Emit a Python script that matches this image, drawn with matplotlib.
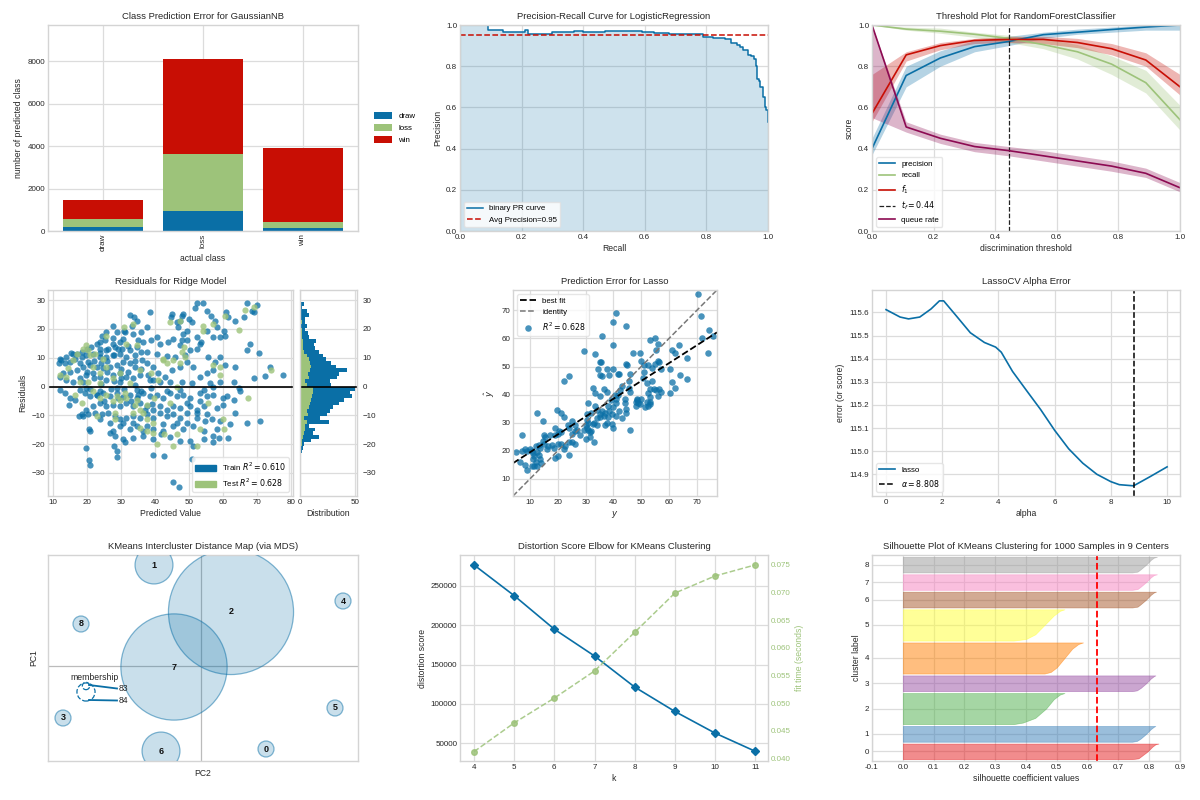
import numpy as np
import matplotlib
matplotlib.use('Agg')
import matplotlib.pyplot as plt
from matplotlib.patches import Patch
from matplotlib.ticker import FormatStrFormatter

plt.rcParams['font.family'] = ['Liberation Sans', 'DejaVu Sans']
plt.rcParams['mathtext.fontset'] = 'dejavusans'

BLUE = '#0a6fa6'
GREEN = '#9dc37a'
RED = '#c80e04'
PURPLE = '#8c0a52'
TXT = '#262626'

# ---------------- data ----------------
# 1 Class prediction error
classes = ['draw', 'loss', 'win']
pred_as_draw = [180, 930, 160]
pred_as_loss = [370, 2720, 250]
pred_as_win = [930, 4450, 3520]

# 2 Precision recall
pr_recall = [0.0, 0.09, 0.14, 0.21, 0.22, 0.30, 0.37, 0.40, 0.47, 0.53, 0.59, 0.63, 0.68, 0.73, 0.77,
             0.79, 0.82, 0.86, 0.88, 0.90, 0.91, 0.92, 0.935, 0.945, 0.955, 0.96, 0.965, 0.97, 0.975,
             0.985, 0.99, 0.995, 1.0]
pr_precision = [1.0, 0.975, 0.965, 0.978, 0.958, 0.968, 0.972, 0.968, 0.970, 0.970, 0.967, 0.963, 0.957,
                0.955, 0.955, 0.940, 0.935, 0.930, 0.915, 0.905, 0.895, 0.88, 0.855, 0.85, 0.835, 0.80,
                0.74, 0.73, 0.70, 0.65, 0.60, 0.585, 0.53]
avg_precision = 0.95

# 3 Threshold plot
thresholds = [0.0, 0.111, 0.222, 0.333, 0.444, 0.556, 0.667, 0.778, 0.889, 1.0]
prec_mean = [0.40, 0.755, 0.84, 0.895, 0.92, 0.953, 0.965, 0.978, 0.99, 1.0]
prec_lo = [0.37, 0.70, 0.80, 0.87, 0.90, 0.935, 0.955, 0.965, 0.975, 0.975]
prec_hi = [0.45, 0.80, 0.875, 0.925, 0.945, 0.965, 0.98, 0.99, 1.0, 1.0]
rec_mean = [1.0, 0.98, 0.97, 0.955, 0.935, 0.905, 0.87, 0.81, 0.72, 0.54]
rec_lo = [1.0, 0.975, 0.96, 0.94, 0.915, 0.885, 0.835, 0.76, 0.67, 0.49]
rec_hi = [1.0, 0.99, 0.985, 0.965, 0.95, 0.935, 0.905, 0.85, 0.78, 0.61]
f1_mean = [0.57, 0.855, 0.90, 0.925, 0.93, 0.93, 0.915, 0.885, 0.83, 0.70]
f1_lo = [0.53, 0.825, 0.88, 0.91, 0.915, 0.91, 0.89, 0.855, 0.80, 0.66]
f1_hi = [0.76, 0.87, 0.915, 0.935, 0.945, 0.945, 0.935, 0.91, 0.865, 0.76]
qr_mean = [1.0, 0.505, 0.45, 0.41, 0.39, 0.365, 0.34, 0.315, 0.28, 0.21]
qr_lo = [0.55, 0.48, 0.425, 0.385, 0.365, 0.34, 0.315, 0.29, 0.26, 0.19]
qr_hi = [1.0, 0.53, 0.47, 0.43, 0.41, 0.39, 0.365, 0.34, 0.305, 0.235]
t_opt = 0.444

# 4 Residuals
train_points = [
 (52.3,29.1),(54,29.1),(67,28.9),(70,28.3),(68.5,26.3),(51.8,27.4),(55.2,26.3),(48.2,25.1),(44.9,25.1),(38.5,25.9),
 (32.6,24.8),(33.9,24),(27.5,21.1),(47.9,24.6),(50.1,23.4),(46.4,22.3),(44.6,24),(61.6,24),(61,25.7),(63.6,22.6),
 (66.3,24.2),(69,25.7),(60.3,19.4),(60.6,17.7),(59.1,17.1),(57.2,17.1),(52.3,17.1),(53.6,15.4),(49.3,16),(47.9,16.2),
 (45.4,16.6),(40.5,17.1),(36,18.9),(33.6,18.3),(31.1,18.9),(27.7,16.9),(25.2,16.2),(23.8,15.4),(22.8,14.9),(21.3,13.7),
 (20,13.1),(18.4,12),(16.9,11.2),(15.4,11.7),(13.9,10.3),(12.2,9.1),(11.8,8),(13.4,8),(14.9,8.6),(16.4,9.7),
 (18.4,10.3),(19.8,10.9),(21.6,11.4),(23.8,11.7),(25.7,12.6),(28.2,13.7),(30.2,13.1),(32.6,12.6),(34.6,13.7),(37.5,12),
 (40.5,11.4),(43.4,10.5),(45.9,10.3),(48.8,10.9),(50.3,12.6),(52.3,13.1),(53.3,14.9),(55.7,10.3),(57.7,8.6),(59.1,10.3),
 (67,12.6),(67.8,14.6),(70.7,11.7),(73.7,6.9),(72.4,3.7),(77.6,4),(69.2,2.9),(63.6,6.9),(60.6,7.4),(63.1,1.7),
 (64.6,-0.6),(64.9,-1.7),(57.2,5.7),(55.2,4.6),(53.3,3.4),(51.3,6.9),(49.3,8.6),(47.4,6.9),(44.9,5.7),(42.9,3.4),
 (40.9,4.6),(39.5,6.9),(37.5,8),(36.1,9.1),(34.1,6.9),(32.6,8),(30.6,8.6),(28.7,7.4),(26.7,6.9),(24.7,6.3),
 (22.8,6.9),(20.8,7.4),(18.8,6.9),(16.9,5.7),(14.9,5.1),(13,4.6),(11.9,3.4),(13.9,2.3),(15.9,1.7),(17.9,2.9),
 (19.8,4),(21.8,4.6),(23.8,3.4),(25.7,2.3),(27.7,4),(29.7,4.6),(31.6,3.4),(33.6,2.9),(35.6,4),(38.5,2.3),
 (41.5,1.7),(44.4,1.4),(47.9,1.7),(50.8,1.1),(56.2,1.1),(59.1,1.7),
 (14.9,-4),(14.7,-6.3),(17.9,-1.1),(19.3,-2.3),(20.8,-3.4),(22.8,-2.9),(24.7,-2.3),(26.7,-3.4),(28.7,-2.3),(30.6,-3.7),
 (32.6,-2.9),(34.6,-4),(36.5,-2.3),(38.5,-3.4),(40.5,-2.9),(42.4,-4),(44.4,-2.3),(46.4,-3.4),(48.3,-2.9),(50.3,-4),
 (53.3,-2.3),(55.2,-3.4),(57.2,-2.9),(60.1,-4),(61.1,-3.4),(53.3,-5.1),(54.3,-6.9),(49.3,-5.7),(47.4,-7.4),(45.4,-6.9),
 (43.4,-8),(41.5,-6.9),(39.5,-8),(37.5,-6.9),(35.6,-5.7),(33.6,-6.9),(31.6,-5.7),(29.7,-6.9),(27.7,-6.3),(25.7,-6.9),
 (23.8,-5.7),(21.8,-6.9),(19.8,-8),(18.4,-9.7),(18.8,-10.3),(20.3,-9.7),(22.3,-9.1),(24.3,-9.7),(26.2,-9.1),(28.2,-10.3),
 (29.7,-11.4),(31.6,-10.9),(33.6,-10.1),(35.6,-10.9),(37.5,-9.7),(39.5,-10.9),(41.5,-9.1),(43.4,-10.3),(45.4,-9.7),(47.4,-10.9),
 (49.3,-9.1),(52.3,-9.1),(55.2,-9.7),(56.7,-11.4),(59.1,-12),(63.6,-9.1),(67.2,-12.6),(70.9,-12),(62.1,-13.1),(58.1,-14.9),
 (54.3,-15.4),(51.3,-13.7),(48.3,-14.9),(45.4,-13.7),(42.4,-13.1),(39.5,-14.9),(36.5,-15.4),(34.6,-13.7),(32.6,-14.9),(29.7,-13.7),
 (27.7,-15.4),(26.7,-16),(28.2,-17.1),(30.7,-18.3),(31.2,-19.4),(33.6,-17.7),(36.5,-17.1),(39.5,-18.3),(41.9,-16.6),(44.4,-17.4),
 (47.4,-18.9),(50.3,-18.9),(51.3,-20.6),(54.3,-18.3),(57.2,-19.4),(58.7,-17.7),(61.6,-17.7),(57.2,-17.1),(17.7,-10.3),(20.6,-14.9),
 (20.8,-15.4),(19.6,-21.5),(20.6,-25.5),(21,-27.4),(27.9,-20.6),(28.7,-22.3),(28.9,-24.3),(39.5,-23.8),(42.6,-24.2),(50.9,-25.1),
 (45.4,-33.1),(47.1,-34.9),(42.3,-15.4),
 (12,9.4),(15.9,11.4),(17.9,8),(20.3,8.6),(23.8,10.3),(25.7,10.3),(27.7,10.9),(29.7,11.4),(31.6,10.3),(23.8,13.1),
 (26.2,13.1),(29.2,13.1),(27.7,14.9),(29.7,15.4),(30.6,16.6),(30.9,19.4),(35.1,16),(36.5,15.4),(38.9,16),(41.5,14.9),
 (43.9,15.4),(47.4,14.3),(48.3,18.3),(46.9,20.6),(47.4,22.9),(49.3,19.4),(50.8,22.3),(55.2,19.4),(58.1,20.6),(56.4,24.6),
 (57.7,22.9),(37.5,20.6),(34.6,22.9),(33.1,21.1),(28.7,18.9),(25.7,18.9),(24.3,17.7),(39.5,2.3),(29.7,1.7),(18.8,1.7),
 (12,-1.1),(13.4,-2.3),(16.4,-4.6),(57.2,-0.2),(54.3,-1.1),(47.4,-1.1),(43.4,-1.4),(38.9,-0.6),(34.6,-1.1),(28.7,-0.6),
 (23.8,-1.4),(19.8,-0.6),(50.3,-6.9),(52.3,-8),(58.1,-7.4),(60.1,-6.3),(63.1,-4.6),(54.7,-12),(52.3,-10.9),(49.3,-12.6),
 (46.4,-12.6),(37.5,-13.7),(33.6,-12.6),(30.6,-12.6),(26.7,-12.6),(23.8,-11.4),
 (20,5),(22,3),(24,1),(26,5),(28,2),(30,6),(32,5),(34,9),(36,6),(38,4),(21,-1),(23,-3),(25,-5),(27,-1),(29,-4),
 (31,-1),(33,-5),(35,-3),(37,-8),(39,-6),(26,9),(28,11),(32,14),(34,11),(36,12),(22,9),(24,8),(30,3),(34,0.5),(36,-1.5)]
test_points = [
 (44.4,22.3),(47.4,22.6),(54.2,19.4),(57.2,21.7),(60.6,24.6),(66.5,26.5),(69,27.7),(64.7,19.7),(54.2,21.1),(48.4,13.7),
 (47.9,12),(47.4,8),(45.4,9.1),(42.4,9.7),(43.4,8),(48.8,10.3),(59.1,6.9),(57.2,7.4),(59.1,4),(74.1,5.9),
 (67.5,-4),(55.7,-5.7),(60.1,-11.4),(60.4,-14.9),(53.3,-14.9),(52.3,-20.6),(46.4,-16.6),(45.2,-20.6),(42.6,-16.6),(40.5,-20),
 (39.5,-16),(37.5,-15.4),(35.6,-14.3),(37.5,-11.4),(39.5,-12.6),(36.5,-9.1),(34.1,-6.3),(34.6,-4.6),(31.6,-4),(28.7,-3.4),
 (27.7,-5.1),(28.2,-9.1),(28.2,-11.4),(22.9,-10.3),(18.5,-5.7),(16.4,-2.9),(17.9,1.7),(13.9,3.4),(11.9,4),(14.4,6.3),
 (15.9,9.1),(16.9,11.2),(18.8,13.1),(19.6,14.3),(20.3,12.6),(22.3,11.2),(21.8,6.9),(24.7,9.7),(25.5,17.7),(30.8,20.8),
 (33.6,21.7),(31.6,14.9),(34.6,14.3),(25.7,6.9),(29.7,4.6),(27.7,2.9),(32.6,1.1),(23.8,1.1),(20.3,1.7),(35.6,5.7),
 (42.4,9.1),(31.1,-2.3),(29.7,-4.6),(25.7,-2.9),(23.8,-4),(21.8,-1.7),(33.6,-9.1),(35.6,-8),(37.5,-6.3),(39.7,-4),
 (44.4,-5.7),(46.4,0),(40.9,2.3),(38.9,4.6),(20.8,10.9),(23.8,4.6)]
train_r2 = 0.610
test_r2 = 0.628
hist_train = [0,1,0,0,0,1,0,1,1,2,3,4,10,17,12,14,8,26,18,25,27,30,36,40,47,46,50,28,27,34,
              36,43,33,28,24,21,17,14,13,15,8,7,5,6,5,5,8,6,2,4]
hist_test = [0,0,0,0,0,0,0,0,0,1,1,2,2,3,4,5,5,6,4,7,6,8,9,10,11,12,12,6,5,8,
             7,9,10,9,8,6,4,3,3,3,2,2,2,1,2,1,1,1,0,0]
hist_low, hist_high = -34.8, 29.4

# 5 Prediction error
pe_points = [
 (70.5,76),(71.5,68),(72,60),(74.5,63),(74,55),(76,61),(41,69),(40,66),(44.5,64.5),(36,61),(40,57.5),(29.5,55.5),
 (33.5,54.5),(35,51.5),(35.5,51.5),(34.5,49),(37.5,49),(40,49),(41.5,47.5),(35,47),(36,46.5),(38.5,47),(22,45),
 (24,46.5),(44.5,51),(44.8,50.6),(47,55),(49.5,55),(50,52),(51,50.5),(51,48),(52.5,50.5),(53,59.5),(55,60),(56,58),
 (55.5,56),(56,52),(56.3,51.5),(55,51),(54,49.5),(57,49),(60.5,49),(61,56),(62,55),(63.5,57.5),(61,44.5),(62,42.5),
 (64,47),(66.5,53),(66.5,45.5),(60.5,40.5),(56.5,42),(57,41),(56,39.5),(53,42),(52.5,40.5),(53,39),(52,37.5),
 (52.5,36),(51.5,35.5),(49.5,36.5),(50,38.5),(48,37.5),(48.5,38),(48,36),(46,41),(46,27.5),(44,38.5),(44,37),
 (44.5,35),(44.5,33.5),(43,31.5),(41.5,40),(41,38.5),(41,37),(42,34),(40,35.5),(41,32.5),(39.5,33),(38.5,34),
 (38,32),(37.5,30),(37,29),(39.5,29.5),(40,28),(36.5,32.5),(35,32),(34,31.5),(33.5,36),(33.5,40.5),(32.5,42.5),
 (31,37),(32,33.5),(30.5,33),(30.5,31),(30,29),(30.5,28),(31,27.5),(31.5,26.5),(32,27),(31.5,25),(30,24),(33,23),
 (31,30),(32.5,29.5),(33,30),(34,29),(29.5,27.5),(28,25.5),(27,27.5),(26,29),(25,30.5),(26,27),(25,26),(24,28),
 (23.5,29),(25,23),(26,22.5),(24,23),(24,18.5),(22.5,21.5),(22,20.5),(21,22.5),(20,22.5),(21,26.5),(19,28),(20,26),
 (19.5,34.5),(21,33.5),(22,32),(20.5,27),(19,25.5),(17,25.5),(18,22),(18.5,21),(19,17.5),(20,18),(16.5,21.5),
 (16,20.5),(15,22.5),(15,25.5),(15.3,25),(14.5,30.5),(12.5,33.5),(14.5,23.5),(13,22),(12,21.5),(12.5,19.5),(11.5,18),
 (11,17),(12,16),(11.5,14.5),(12.5,14.5),(10.5,14.5),(13.5,17),(14,15.5),(13,18.5),(10,20.5),(9,20),(8,20.5),(7,20),
 (8,15),(9,13),(6.5,16),(5,19.5),(7,25.5),(10.5,20),(11,19),(13.5,21),(35,39.5),(36.5,42),(37.5,41),(40.5,40),
 (42.5,41.5),(39,38),(38,36),(37,33.5),(36,34),(35,33),(34,34.5),(45.5,42.5),(45.5,45),(46,47.5),(42,47.5),(43,43),
 (50.5,46),(52,44),(54,45),(54.5,42),(55.5,41.5),(48.5,38.5),(49,37),(53,36.5),(53,37.5)]
pe_fit_slope, pe_fit_intercept = 0.635, 13.1
pe_r2 = 0.628
pe_limits = (3.8, 77.3)

# 6 LassoCV alpha error
lasso_alpha = [0, 0.5, 0.8, 1.2, 1.6, 1.9, 2.05, 2.5, 3.0, 3.5, 3.9, 4.1, 4.5, 5.0, 5.5, 6.0, 6.5, 7.0,
               7.5, 8.0, 8.3, 8.808, 9.4, 10.0]
lasso_error = [115.612, 115.58, 115.572, 115.58, 115.615, 115.65, 115.65, 115.585, 115.512, 115.47,
               115.45, 115.428, 115.345, 115.262, 115.18, 115.09, 115.01, 114.948, 114.9, 114.868,
               114.855, 114.85, 114.89, 114.932]
best_alpha = 8.808

# 7 Intercluster distance (MDS)
cluster_ids = [0, 1, 2, 3, 4, 5, 6, 7, 8]
cluster_pc2 = [0.65, -0.47, 0.30, -1.38, 1.42, 1.34, -0.40, -0.27, -1.20]
cluster_pc1 = [-0.83, 1.01, 0.54, -0.52, 0.65, -0.42, -0.85, -0.01, 0.42]
cluster_relsize = [1.0, 5.6, 61.0, 1.0, 1.0, 1.0, 5.6, 44.0, 1.0]
membership_labels = ['83', '84']

# 8 Elbow
elbow_k = [4, 5, 6, 7, 8, 9, 10, 11]
distortion = [276700, 237700, 195000, 161000, 121500, 90500, 63000, 39900]
fit_time = [0.0412, 0.0464, 0.0509, 0.0558, 0.0628, 0.0699, 0.0730, 0.0750]

# 9 Silhouette
sil_sizes = [83, 84, 166, 84, 166, 167, 84, 83, 83]
sil_quantiles = [0.0, 0.05, 0.2, 0.5, 0.8, 0.95, 1.0]
sil_profiles = [
    [0.745, 0.765, 0.775, 0.795, 0.81, 0.82, 0.83],
    [0.745, 0.76, 0.772, 0.79, 0.805, 0.815, 0.82],
    [0.36, 0.39, 0.43, 0.465, 0.49, 0.51, 0.525],
    [0.745, 0.76, 0.772, 0.79, 0.805, 0.815, 0.82],
    [0.46, 0.48, 0.50, 0.525, 0.55, 0.57, 0.585],
    [0.36, 0.40, 0.43, 0.46, 0.49, 0.51, 0.525],
    [0.745, 0.762, 0.772, 0.79, 0.805, 0.815, 0.822],
    [0.745, 0.762, 0.772, 0.79, 0.805, 0.815, 0.825],
    [0.745, 0.762, 0.772, 0.79, 0.805, 0.815, 0.825],
]
sil_avg = 0.629
SET1 = ['#e41a1c', '#377eb8', '#4daf4a', '#984ea3', '#ff7f00', '#ffff33', '#a65628', '#f781bf', '#999999']

# ---------------- helpers ----------------
TS, LS, KS, GS = 6.8, 6.2, 5.8, 5.7


def style(ax, grid=True):
    ax.set_facecolor('white')
    for s in ax.spines.values():
        s.set_color('#d4d4d4')
        s.set_linewidth(1.0)
    if grid:
        ax.grid(True, color='#dcdcdc', lw=0.9)
    ax.set_axisbelow(True)
    ax.tick_params(length=0, labelsize=KS, colors=TXT, pad=2)


def title(ax, t):
    ax.set_title(t, fontsize=TS, color=TXT, pad=4)


def labels(ax, xl, yl):
    ax.set_xlabel(xl, fontsize=LS, color=TXT, labelpad=2)
    ax.set_ylabel(yl, fontsize=LS, color=TXT, labelpad=3)


def box(x0, y0, x1, y1):
    return [x0 / 1200, 1 - y1 / 800, (x1 - x0) / 1200, (y1 - y0) / 800]


fig = plt.figure(figsize=(12, 8), dpi=100)

# ---------- 1 Class prediction error ----------
ax = fig.add_axes(box(48, 25, 358, 231))
style(ax)
xi = np.arange(len(classes))
b1 = np.array(pred_as_draw)
b2 = np.array(pred_as_loss)
b3 = np.array(pred_as_win)
ax.bar(xi, b1, 0.8, color=BLUE, label='draw')
ax.bar(xi, b2, 0.8, bottom=b1, color=GREEN, label='loss')
ax.bar(xi, b3, 0.8, bottom=b1 + b2, color=RED, label='win')
ax.set_xticks(xi)
ax.set_xticklabels(classes, rotation=90)
ax.set_xlim(-0.55, 2.55)
ax.set_ylim(0, 9720)
ax.set_yticks([0, 2000, 4000, 6000, 8000])
title(ax, 'Class Prediction Error for GaussianNB')
labels(ax, 'actual class', 'number of predicted class')
ax.legend(loc='center left', bbox_to_anchor=(1.03, 0.5), frameon=False, fontsize=GS,
          handlelength=2.2, handleheight=1.0)

# ---------- 2 Precision-Recall ----------
ax = fig.add_axes(box(460, 25, 768, 231))
style(ax)
ax.fill_between(pr_recall, pr_precision, step='post', color=BLUE, alpha=0.2, lw=0)
ax.step(pr_recall, pr_precision, where='post', color=BLUE, lw=1.1, label='binary PR curve')
ax.axhline(avg_precision, color=RED, ls='--', lw=1.1, label='Avg Precision={:0.2f}'.format(avg_precision))
ax.set_xlim(0, 1)
ax.set_ylim(0, 1)
title(ax, 'Precision-Recall Curve for LogisticRegression')
labels(ax, 'Recall', 'Precision')
ax.legend(loc='lower left', fontsize=GS, frameon=True, facecolor='white', edgecolor='#e0e0e0', framealpha=0.8)

# ---------- 3 Threshold ----------
ax = fig.add_axes(box(872, 25, 1180, 231))
style(ax)
for m, lo, hi, c, lab in [(prec_mean, prec_lo, prec_hi, BLUE, 'precision'),
                          (rec_mean, rec_lo, rec_hi, GREEN, 'recall'),
                          (f1_mean, f1_lo, f1_hi, RED, '$f_1$')]:
    ax.fill_between(thresholds, lo, hi, color=c, alpha=0.3, lw=0)
    ax.plot(thresholds, m, color=c, lw=1.2, label=lab)
ax.axvline(t_opt, color='#222222', ls='--', lw=0.9, label='$t_f = {:0.2f}$'.format(t_opt))
ax.fill_between(thresholds, qr_lo, qr_hi, color=PURPLE, alpha=0.3, lw=0)
ax.plot(thresholds, qr_mean, color=PURPLE, lw=1.2, label='queue rate')
ax.set_xlim(0, 1)
ax.set_ylim(0, 1)
title(ax, 'Threshold Plot for RandomForestClassifier')
labels(ax, 'discrimination threshold', 'score')
ax.legend(loc='lower left', fontsize=GS, frameon=True, facecolor='white', edgecolor='#e0e0e0', framealpha=0.8)

# ---------- 4 Residuals ----------
ax = fig.add_axes(box(48, 290, 293, 496))
style(ax)
tr = np.array(train_points)
te = np.array(test_points)
ax.scatter(tr[:, 0], tr[:, 1], s=20, color=BLUE, alpha=0.75, lw=0)
ax.scatter(te[:, 0], te[:, 1], s=20, color=GREEN, alpha=0.8, lw=0)
ax.axhline(0, color='black', lw=1.2)
ax.set_xlim(8.5, 80.6)
ax.set_ylim(-38, 33.5)
ax.set_xticks([10, 20, 30, 40, 50, 60, 70, 80])
ax.set_yticks([-30, -20, -10, 0, 10, 20, 30])
title(ax, 'Residuals for Ridge Model')
labels(ax, 'Predicted Value', 'Residuals')
ax.legend(handles=[Patch(color=BLUE, label='Train $R^2 = {:0.3f}$'.format(train_r2)),
                   Patch(color=GREEN, label='Test $R^2 = {:0.3f}$'.format(test_r2))],
          loc='lower right', fontsize=GS, frameon=True, facecolor='white', edgecolor='#e0e0e0',
          framealpha=0.85, handlelength=2.6)

axh = fig.add_axes(box(300, 290, 357, 496))
style(axh)
edges = np.linspace(hist_low, hist_high, len(hist_train) + 1)
hw = edges[1] - edges[0]
axh.barh(edges[:-1], hist_train, height=hw, align='edge', color=BLUE, lw=0)
axh.barh(edges[:-1], hist_test, height=hw, align='edge', color=GREEN, lw=0)
axh.axhline(0, color='black', lw=1.2)
axh.set_ylim(-38, 33.5)
axh.set_xlim(0, 52)
axh.set_xticks([0, 50])
axh.set_yticks([-30, -20, -10, 0, 10, 20, 30])
axh.yaxis.tick_right()
axh.tick_params(axis='y', pad=4)
axh.set_xlabel('Distribution', fontsize=LS, color=TXT, labelpad=2)

# ---------- 5 Prediction error ----------
ax = fig.add_axes(box(513, 290, 717, 496))
style(ax)
pe = np.array(pe_points)
ax.scatter(pe[:, 0], pe[:, 1], s=22, color=BLUE, alpha=0.75, lw=0, label='$R^2 = {:0.3f}$'.format(pe_r2))
lx = np.array(pe_limits)
ax.plot(lx, pe_fit_slope * lx + pe_fit_intercept, color='black', ls='--', lw=1.3, label='best fit')
ax.plot(lx, lx, color='#777777', ls='--', lw=1.1, label='identity')
ax.set_xlim(*pe_limits)
ax.set_ylim(*pe_limits)
ax.set_xticks([10, 20, 30, 40, 50, 60, 70])
ax.set_yticks([10, 20, 30, 40, 50, 60, 70])
title(ax, 'Prediction Error for Lasso')
labels(ax, '$y$', '$\\hat{y}$')
h, l = ax.get_legend_handles_labels()
ax.legend([h[1], h[2], h[0]], [l[1], l[2], l[0]], loc='upper left', fontsize=GS, frameon=True,
          facecolor='white', edgecolor='#e0e0e0', framealpha=0.8)

# ---------- 6 LassoCV ----------
ax = fig.add_axes(box(872, 290, 1180, 496))
style(ax)
ax.plot(lasso_alpha, lasso_error, color=BLUE, lw=1.2, label='lasso')
ax.axvline(best_alpha, color='black', ls='--', lw=1.1, label='$\\alpha = {:0.3f}$'.format(best_alpha))
ax.set_xlim(-0.5, 10.46)
ax.set_ylim(114.806, 115.697)
ax.set_xticks([0, 2, 4, 6, 8, 10])
ax.set_yticks([114.9, 115.0, 115.1, 115.2, 115.3, 115.4, 115.5, 115.6])
ax.yaxis.set_major_formatter(FormatStrFormatter('%.1f'))
title(ax, 'LassoCV Alpha Error')
labels(ax, 'alpha', 'error (or score)')
ax.legend(loc='lower left', fontsize=GS, frameon=True, facecolor='white', edgecolor='#e0e0e0', framealpha=0.8)

# ---------- 7 Intercluster ----------
ax = fig.add_axes(box(48, 555, 358, 761))
style(ax, grid=False)
ax.set_xlim(-1.53, 1.57)
ax.set_ylim(-0.95, 1.11)
ax.axhline(0, color='#bbbbbb', lw=0.9, zorder=1)
ax.axvline(0, color='#bbbbbb', lw=0.9, zorder=1)
sizes = 133 * np.array(cluster_relsize)
ax.scatter(cluster_pc2, cluster_pc1, s=sizes, facecolor=BLUE, alpha=0.22, lw=0, zorder=2)
ax.scatter(cluster_pc2, cluster_pc1, s=sizes, facecolor='none', edgecolor=BLUE, alpha=0.5, lw=0.9, zorder=3)
for cid, x, y in zip(cluster_ids, cluster_pc2, cluster_pc1):
    ax.text(x, y, str(cid), ha='center', va='center', fontsize=6.5, fontweight='bold', color='#111111', zorder=4)
ax.set_xticks([])
ax.set_yticks([])
title(ax, 'KMeans Intercluster Distance Map (via MDS)')
ax.set_xlabel('PC2', fontsize=LS, color=TXT, labelpad=6)
ax.set_ylabel('PC1', fontsize=LS, color=TXT, labelpad=7)
# membership legend
ax.text(-1.06, -0.11, 'membership', ha='center', va='center', fontsize=6.2, color=TXT)
ax.scatter([-1.15], [-0.26], s=170, facecolor='none', edgecolor=BLUE, linestyle='--', lw=0.9)
ax.scatter([-1.15], [-0.20], s=28, facecolor='none', edgecolor=BLUE, linestyle='--', lw=0.9)
ax.plot([-1.12, -0.84], [-0.19, -0.225], color=BLUE, lw=1.3)
ax.plot([-1.12, -0.84], [-0.34, -0.345], color=BLUE, lw=1.3)
ax.text(-0.82, -0.225, membership_labels[0], va='center', fontsize=6.2, color=TXT)
ax.text(-0.82, -0.345, membership_labels[1], va='center', fontsize=6.2, color=TXT)

# ---------- 8 Elbow ----------
ax = fig.add_axes(box(460, 555, 768, 761))
style(ax)
ax.plot(elbow_k, distortion, color=BLUE, lw=1.2, marker='D', ms=4.5)
ax.set_xlim(3.65, 11.32)
ax.set_ylim(27500, 289400)
ax.set_xticks(elbow_k)
ax.set_yticks([50000, 100000, 150000, 200000, 250000])
title(ax, 'Distortion Score Elbow for KMeans Clustering')
labels(ax, 'k', 'distortion score')
ax2 = ax.twinx()
ax2.plot(elbow_k, fit_time, color=GREEN, lw=1.1, ls='--', marker='o', ms=4, alpha=0.85)
ax2.set_ylim(0.0395, 0.0768)
ax2.set_yticks([0.040, 0.045, 0.050, 0.055, 0.060, 0.065, 0.070, 0.075])
ax2.yaxis.set_major_formatter(FormatStrFormatter('%.3f'))
ax2.tick_params(length=0, labelsize=KS, colors=GREEN, pad=2)
for s in ax2.spines.values():
    s.set_visible(False)
ax2.set_ylabel('fit time (seconds)', fontsize=LS, color=GREEN, labelpad=3)

# ---------- 9 Silhouette ----------
ax = fig.add_axes(box(872, 555, 1180, 761))
style(ax)
y_lower = 10
centers = []
for i, (n, prof) in enumerate(zip(sil_sizes, sil_profiles)):
    ys = y_lower + np.array(sil_quantiles) * n
    ax.fill_betweenx(ys, 0, prof, facecolor=SET1[i], edgecolor=SET1[i], alpha=0.5, lw=0.5)
    centers.append(y_lower + 0.5 * n)
    y_lower += n + 10
ax.axvline(sil_avg, color='red', ls='--', lw=1.3)
ax.set_xlim(-0.1, 0.9)
ax.set_ylim(0, sum(sil_sizes) + 10 * (len(sil_sizes) + 1))
ax.set_yticks(centers)
ax.set_yticklabels([str(i) for i in range(len(sil_sizes))])
ax.set_xticks(np.round(np.arange(-0.1, 0.91, 0.1), 1))
ax.xaxis.set_major_formatter(FormatStrFormatter('%.1f'))
title(ax, 'Silhouette Plot of KMeans Clustering for 1000 Samples in 9 Centers')
labels(ax, 'silhouette coefficient values', 'cluster label')

fig.savefig('out.png', dpi=100, facecolor='white')
